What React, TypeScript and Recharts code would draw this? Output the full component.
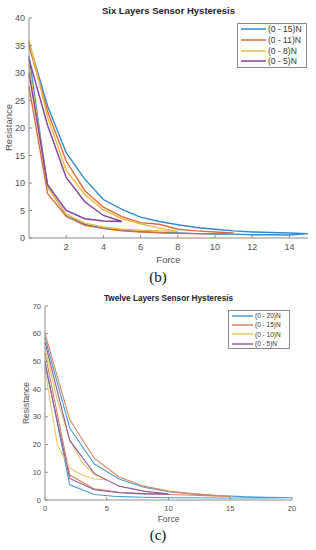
import React from "react";
import { LineChart, Line, XAxis, YAxis, Legend } from "recharts";

// ---- Six layers (b) ----
const sixForce15 = [0, 1, 2, 3, 4, 5, 6, 7, 8, 9, 10, 11, 12, 13, 14, 15];
const sixLoad15 = [33, 9.3, 4.2, 2.5, 1.8, 1.4, 1.2, 1.0, 0.9, 0.8, 0.7, 0.7, 0.6, 0.6, 0.55, 0.8];
const sixUnload15 = [35.5, 24, 15.5, 10.7, 7, 5.2, 3.8, 3.0, 2.4, 1.9, 1.6, 1.3, 1.1, 1.0, 0.9, 0.8];

const sixForce11 = [0, 1, 2, 3, 4, 5, 6, 7, 8, 9, 10, 11];
const sixLoad11 = [27.5, 8.1, 3.9, 2.3, 1.7, 1.3, 1.1, 0.95, 0.85, 0.8, 0.8, 0.9];
const sixUnload11 = [35, 23, 14, 8.6, 5.6, 3.9, 2.8, 2.5, 1.6, 1.3, 1.1, 0.9];

const sixForce8 = [0, 1, 2, 3, 4, 5, 6, 7, 8];
const sixLoad8 = [31.5, 9.3, 4.3, 2.7, 2.0, 1.6, 1.4, 1.3, 1.2];
const sixUnload8 = [36, 22, 12.3, 7.9, 5.1, 3.5, 2.6, 1.8, 1.2];

const sixForce5 = [0, 1, 2, 3, 4, 5];
const sixLoad5 = [30, 9.7, 5.0, 3.5, 3.1, 3.0];
const sixUnload5 = [32.5, 20.5, 11, 6.6, 4.1, 3.0];

// ---- Twelve layers (c) ----
const twForce20 = [0, 2, 4, 6, 8, 10, 12, 14, 16, 18, 20];
const twLoad20 = [50, 5.5, 2.0, 1.2, 1.0, 0.8, 0.8, 0.7, 0.7, 0.7, 0.8];
const twUnload20 = [58.5, 26, 13, 7.6, 4.6, 3.0, 2.2, 1.6, 1.2, 1.0, 0.8];

const twForce15 = [0, 2, 4, 6, 8, 10, 12, 14, 15];
const twLoad15 = [53, 9, 4, 2.8, 2.3, 2.0, 1.7, 1.4, 1.3];
const twUnload15 = [60, 29, 15, 8.3, 5, 3.2, 2.2, 1.5, 1.3];

const twForce10 = [0, 1, 2, 3, 4, 5];
const twLoad10 = [47, 20, 11.5, 9, 7.6, 7.2];
const twUnload10 = [55, 36, 22, 13.5, 9.2, 7.2];

const twForce5 = [0, 2, 4, 6, 8, 10];
const twLoad5 = [49, 7.8, 3.7, 2.6, 2.2, 2.2];
const twUnload5 = [57, 21.5, 9.5, 5, 3.2, 2.2];

const sixNames = ["(0 - 15)N", "(0 - 11)N", "(0 - 8)N", "(0 - 5)N"];
const twNames = ["(0 - 20)N", "(0 - 15)N", "(0 - 10)N", "(0 - 5)N"];

const sixXTicks = [2, 4, 6, 8, 10, 12, 14];
const sixYTicks = [0, 5, 10, 15, 20, 25, 30, 35, 40];
const twXTicks = [0, 5, 10, 15, 20];
const twYTicks = [0, 10, 20, 30, 40, 50, 60, 70];

const sixColors = ["#2d8bd2", "#dc6a3a", "#eebb3c", "#82409a"];
const twColors = ["#45a0cf", "#d8845c", "#ecc560", "#8e5c9f"];

const font = "'Liberation Sans', Arial, sans-serif";
const axisColor = "#8c8c8c";
const textColor = "#505050";

// loading branch out, unloading branch back
const loop = (force: number[], load: number[], unload: number[]) => [
  ...force.map((f, i) => ({ f, r: load[i] })),
  ...force.map((f, i) => ({ f, r: unload[i] })).reverse(),
];

const sixSeries = [
  loop(sixForce15, sixLoad15, sixUnload15),
  loop(sixForce11, sixLoad11, sixUnload11),
  loop(sixForce8, sixLoad8, sixUnload8),
  loop(sixForce5, sixLoad5, sixUnload5),
];
const twSeries = [
  loop(twForce20, twLoad20, twUnload20),
  loop(twForce15, twLoad15, twUnload15),
  loop(twForce10, twLoad10, twUnload10),
  loop(twForce5, twLoad5, twUnload5),
];

const bottomTick = (size: number, margin: number) => (p: any) => {
  const axisY = p.y - margin;
  return (
    <g>
      <line x1={p.x} x2={p.x} y1={axisY} y2={axisY - 3} stroke={axisColor} />
      <text x={p.x} y={p.y} dy="0.71em" textAnchor="middle" fontSize={size} fill={textColor} fontFamily={font}>
        {p.payload.value}
      </text>
    </g>
  );
};

const leftTick = (size: number, margin: number) => (p: any) => {
  const axisX = p.x + margin;
  return (
    <g>
      <line x1={axisX} x2={axisX + 3} y1={p.y} y2={p.y} stroke={axisColor} />
      <text x={p.x} y={p.y} dy="0.35em" textAnchor="end" fontSize={size} fill={textColor} fontFamily={font}>
        {p.payload.value}
      </text>
    </g>
  );
};

const topTick = (p: any) => <line x1={p.x} x2={p.x} y1={p.y} y2={p.y + 3} stroke={axisColor} />;
const rightTick = (p: any) => <line x1={p.x} x2={p.x - 3} y1={p.y} y2={p.y} stroke={axisColor} />;

// legend drawn in series order (recharts would sort it)
const legendBox = (names: string[], colors: string[], size: number, rowH: number, lineW: number) => () => (
  <div
    style={{
      border: "1px solid #8a8a8a",
      background: "#fff",
      padding: "0 3px",
      fontFamily: font,
      fontSize: size,
      color: "#333",
    }}
  >
    {names.map((n, i) => (
      <div key={n} style={{ display: "flex", alignItems: "center", height: rowH }}>
        <svg width={lineW} height={4} style={{ marginRight: 2, flex: "none" }}>
          <line x1={0} x2={lineW} y1={2} y2={2} stroke={colors[i]} strokeWidth={1.5} />
        </svg>
        <span>{n}</span>
      </div>
    ))}
  </div>
);

const abs = (style: React.CSSProperties): React.CSSProperties => ({ position: "absolute", fontFamily: font, ...style });

function SixChart() {
  return (
    <LineChart width={316} height={270} margin={{ top: 18, right: 8, left: 0, bottom: 0 }}>
      <XAxis xAxisId="b" dataKey="f" type="number" domain={[0, 15]} ticks={sixXTicks} height={32}
        tickLine={false} tickSize={0} tickMargin={6} stroke={axisColor} tick={bottomTick(9, 6)} />
      <XAxis xAxisId="t" orientation="top" dataKey="f" type="number" domain={[0, 15]} ticks={sixXTicks} height={0}
        tickLine={false} tickSize={0} tickMargin={0} stroke={axisColor} tick={topTick} />
      <YAxis yAxisId="l" type="number" domain={[0, 40]} ticks={sixYTicks} width={29}
        tickLine={false} tickSize={0} tickMargin={4} stroke={axisColor} tick={leftTick(9, 4)} />
      <YAxis yAxisId="r" orientation="right" type="number" domain={[0, 40]} ticks={sixYTicks} width={0}
        tickLine={false} tickSize={0} tickMargin={0} stroke={axisColor} tick={rightTick} />
      <Legend layout="vertical" align="center" verticalAlign="middle"
        wrapperStyle={{ top: 23, left: 237, width: 70 }} content={legendBox(sixNames, sixColors, 8.5, 10.7, 25)} />
      {sixSeries.map((d, i) => (
        <Line key={i} data={d} dataKey="r" xAxisId="b" yAxisId="l" name={sixNames[i]} type="linear"
          stroke={sixColors[i]} strokeWidth={1.4} dot={false} isAnimationActive={false} />
      ))}
    </LineChart>
  );
}

function TwelveChart() {
  return (
    <LineChart width={316} height={240} margin={{ top: 18, right: 24, left: 0, bottom: 0 }}>
      <XAxis xAxisId="b" dataKey="f" type="number" domain={[0, 20]} ticks={twXTicks} height={28}
        tickLine={false} tickSize={0} tickMargin={6} stroke={axisColor} tick={bottomTick(7.5, 6)} />
      <XAxis xAxisId="t" orientation="top" dataKey="f" type="number" domain={[0, 20]} ticks={twXTicks} height={0}
        tickLine={false} tickSize={0} tickMargin={0} stroke={axisColor} tick={topTick} />
      <YAxis yAxisId="l" type="number" domain={[0, 70]} ticks={twYTicks} width={45}
        tickLine={false} tickSize={0} tickMargin={4} stroke={axisColor} tick={leftTick(7.5, 4)} />
      <YAxis yAxisId="r" orientation="right" type="number" domain={[0, 70]} ticks={twYTicks} width={0}
        tickLine={false} tickSize={0} tickMargin={0} stroke={axisColor} tick={rightTick} />
      <Legend layout="vertical" align="center" verticalAlign="middle"
        wrapperStyle={{ top: 22, left: 228, width: 62 }} content={legendBox(twNames, twColors, 6.5, 9.3, 21)} />
      {twSeries.map((d, i) => (
        <Line key={i} data={d} dataKey="r" xAxisId="b" yAxisId="l" name={twNames[i]} type="linear"
          stroke={twColors[i]} strokeWidth={1.1} dot={false} isAnimationActive={false} />
      ))}
    </LineChart>
  );
}

export default function App() {
  return (
    <div style={{ position: "absolute", left: 0, top: 0, width: 316, height: 550, background: "#fff" }}>
      <div style={abs({ left: 0, top: 0 })}>
        <SixChart />
      </div>
      <div style={abs({ left: 29, width: 279, top: 5, textAlign: "center", fontSize: 9.5, fontWeight: "bold", color: "#222" })}>
        Six Layers Sensor Hysteresis
      </div>
      <div style={abs({ left: 29, width: 279, top: 254, textAlign: "center", fontSize: 9.5, color: textColor })}>Force</div>
      <div style={abs({ left: -22, top: 122, width: 60, textAlign: "center", fontSize: 9.5, color: textColor, transform: "rotate(-90deg)" })}>
        Resistance
      </div>
      <div style={abs({ left: 0, width: 316, top: 269, textAlign: "center", fontSize: 15, fontFamily: "'Liberation Serif', serif", color: "#111" })}>
        (b)
      </div>

      <div style={abs({ left: 0, top: 288 })}>
        <TwelveChart />
      </div>
      <div style={abs({ left: 45, width: 247, top: 294, textAlign: "center", fontSize: 8.2, fontWeight: "bold", color: "#222" })}>
        Twelve Layers Sensor Hysteresis
      </div>
      <div style={abs({ left: 45, width: 247, top: 514, textAlign: "center", fontSize: 8.5, color: textColor })}>Force</div>
      <div style={abs({ left: -4, top: 398, width: 60, textAlign: "center", fontSize: 8.5, color: textColor, transform: "rotate(-90deg)" })}>
        Resistance
      </div>
      <div style={abs({ left: 0, width: 316, top: 527, textAlign: "center", fontSize: 15, fontFamily: "'Liberation Serif', serif", color: "#111" })}>
        (c)
      </div>
    </div>
  );
}
